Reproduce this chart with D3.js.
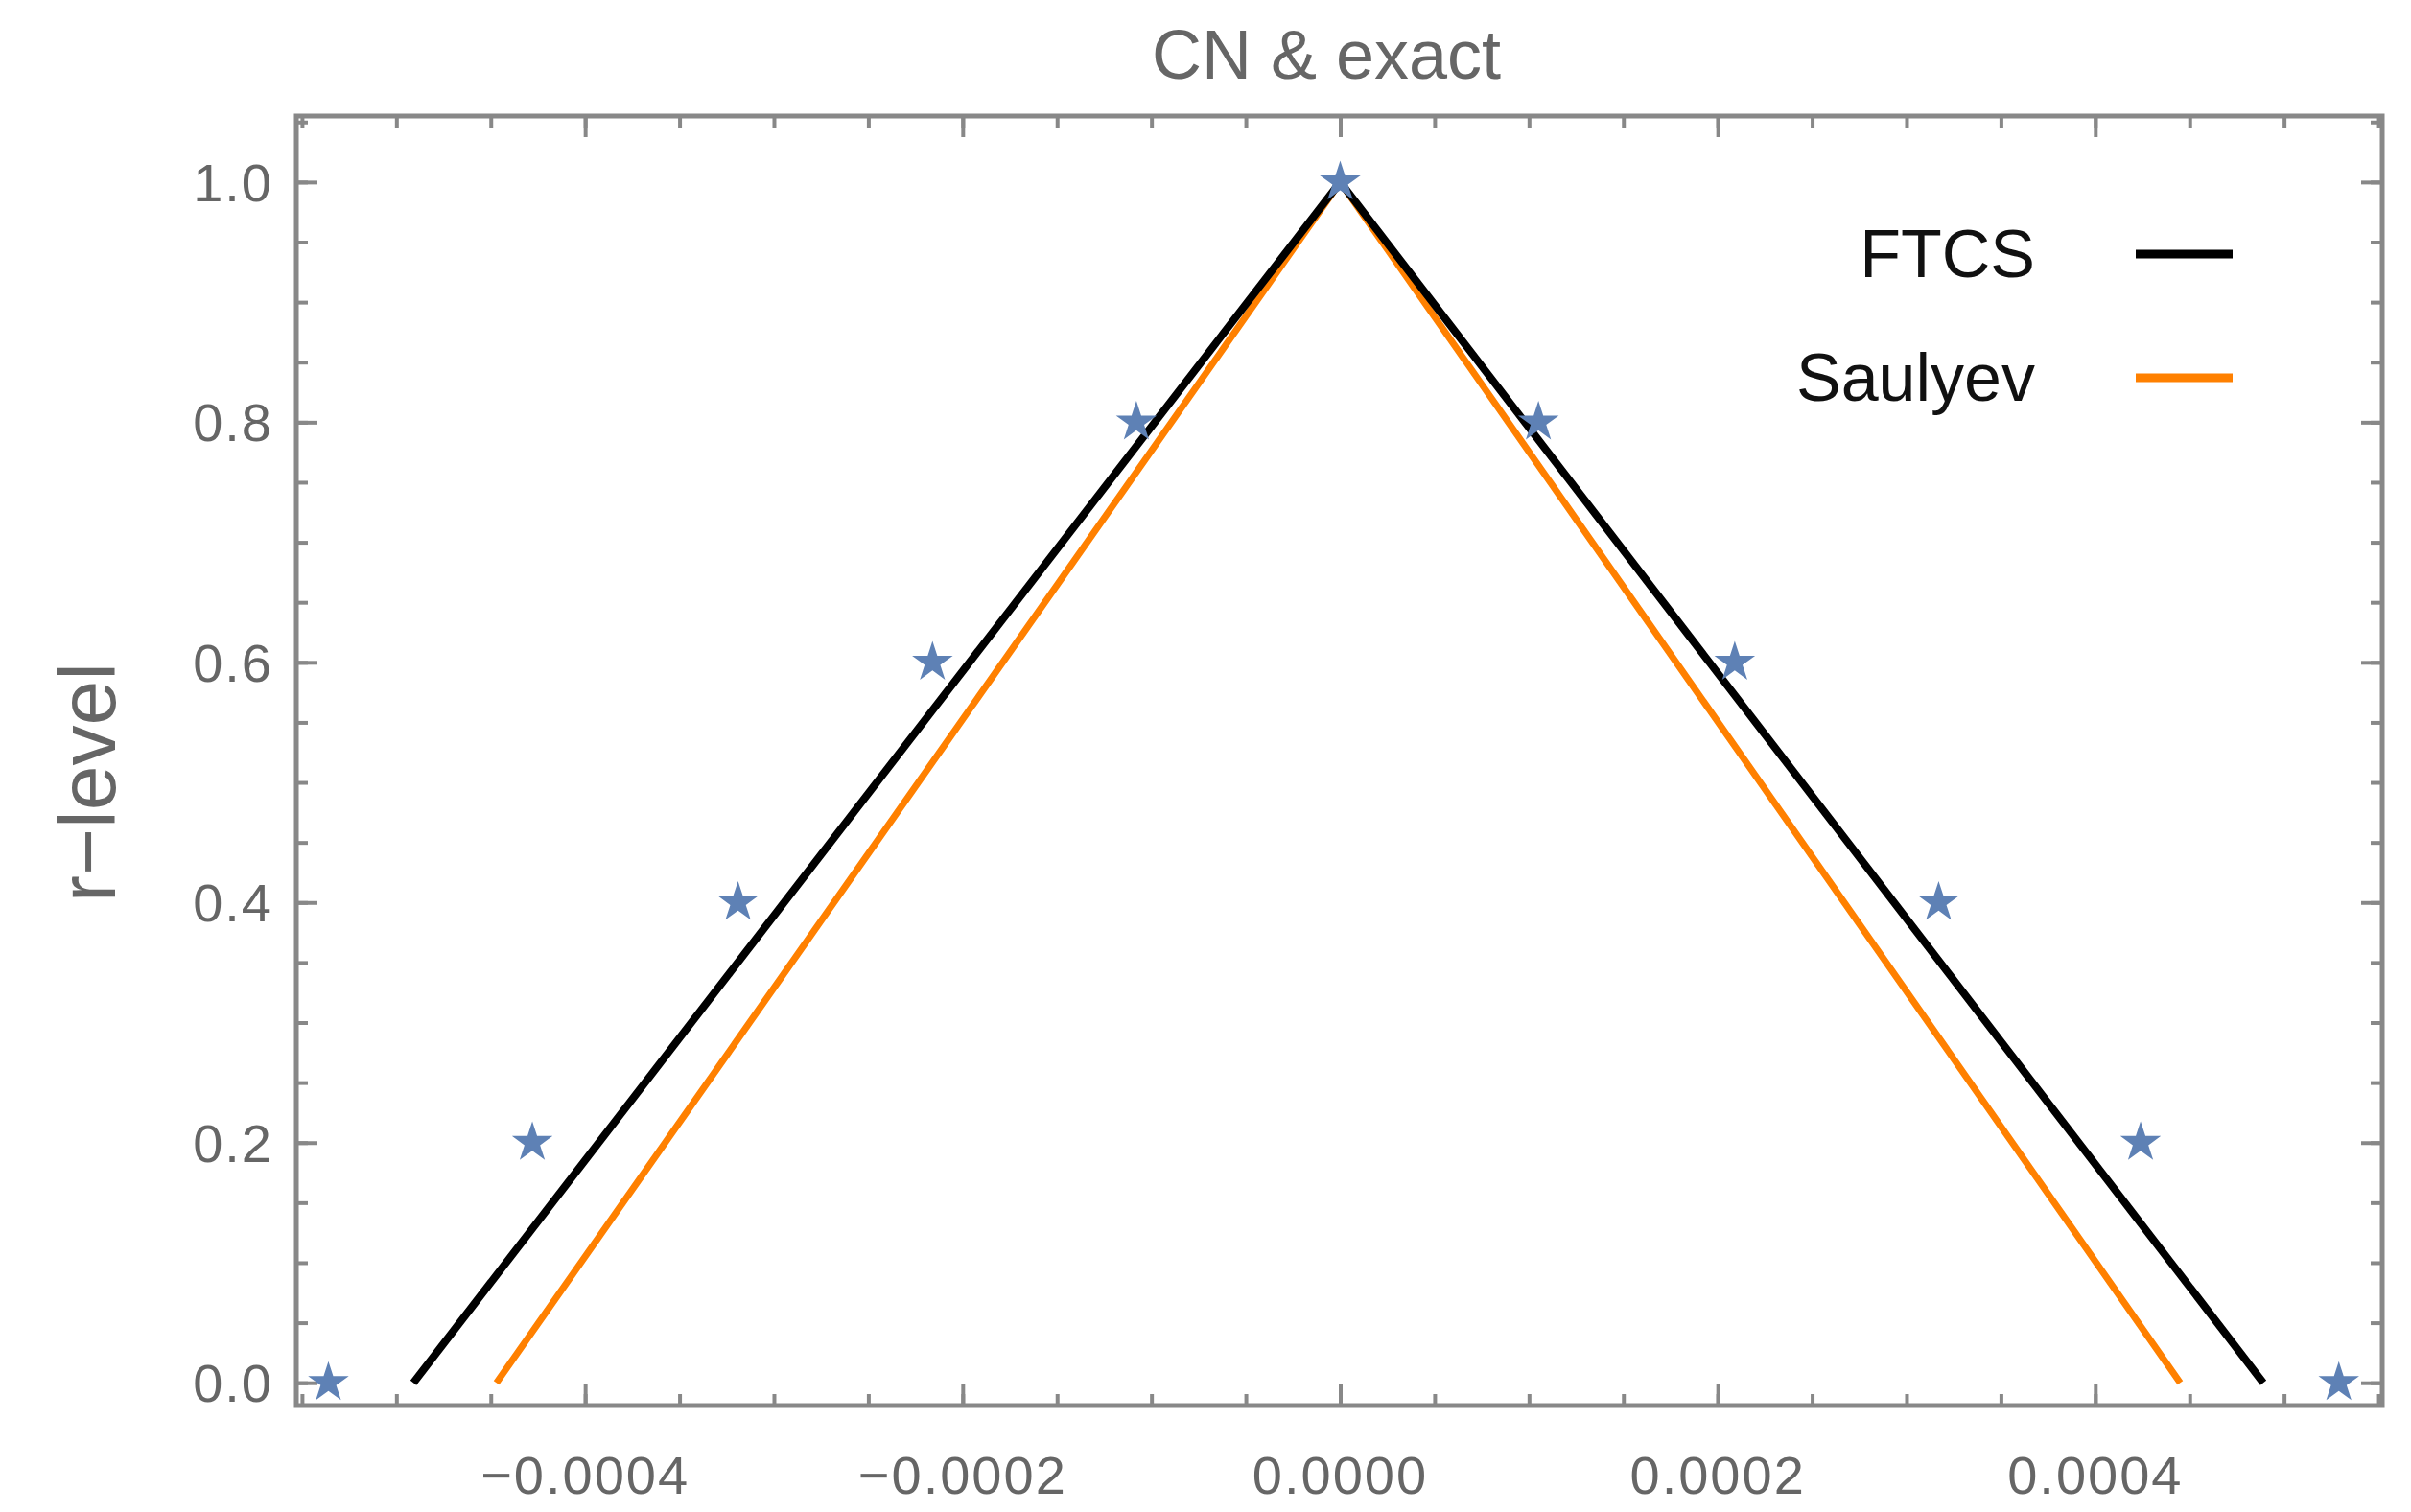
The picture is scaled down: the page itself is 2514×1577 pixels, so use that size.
<!DOCTYPE html>
<html>
<head>
<meta charset="utf-8">
<script src="https://cdn.jsdelivr.net/npm/d3@7"></script>
<style>
  body { margin: 0; background: #fff; }
  text { font-family: "Liberation Sans", Arial, sans-serif; }
</style>
</head>
<body>
<div id="chart"></div>
<script>
const levels = [0, 0.2, 0.4, 0.6, 0.8, 1.0, 0.8, 0.6, 0.4, 0.2, 0];
const cnX = [-0.000536, -0.000428, -0.000319, -0.000216, -0.000108, 0, 0.000105, 0.000209, 0.000317, 0.000424, 0.000529];
const ftcsX = [-0.000491, 0, 0.000489];
const ftcsY = [0, 1, 0];
const saulX = [-0.000447, 0, 0.000445];
const saulY = [0, 1, 0];
const xTicks = [-0.0004, -0.0002, 0, 0.0002, 0.0004];
const yTicks = [0, 0.2, 0.4, 0.6, 0.8, 1.0];
const legendNames = ['FTCS', 'Saulyev'];
const legendColors = ['#000000', '#ff8000'];

const width = 2514;
const height = 1577;
const margin = { left: 309, right: 30, top: 121, bottom: 111 };

const svg = d3.select('#chart').append('svg')
  .attr('width', width)
  .attr('height', height);

const x = d3.scaleLinear()
  .domain([-0.000553, 0.000552])
  .range([margin.left, width - margin.right]);
const y = d3.scaleLinear()
  .domain([-0.019, 1.055])
  .range([height - margin.bottom, margin.top]);

const frameColor = '#888';
const labelColor = '#666';

// inward ticks on all four sides
const xMinor = d3.range(-0.00055, 0.000551, 0.00005);
const yMinor = d3.range(0, 1.0501, 0.05);
function tickAxis(axis, ticks, size) {
  return axis.tickValues(ticks).tickSize(size).tickFormat('');
}
[[d3.axisBottom(x), y.range()[0]], [d3.axisTop(x), y.range()[1]]].forEach(([a, py]) => {
  svg.append('g').attr('transform', `translate(0,${py})`).call(tickAxis(a, xMinor, -12));
  svg.append('g').attr('transform', `translate(0,${py})`).call(tickAxis(a, xTicks, -22));
});
[[d3.axisLeft(y), x.range()[0]], [d3.axisRight(y), x.range()[1]]].forEach(([a, px]) => {
  svg.append('g').attr('transform', `translate(${px},0)`).call(tickAxis(a, yMinor, -12));
  svg.append('g').attr('transform', `translate(${px},0)`).call(tickAxis(a, yTicks, -22));
});
svg.selectAll('.domain').remove();
svg.selectAll('.tick line').attr('stroke', frameColor).attr('stroke-width', 4);

svg.append('rect')
  .attr('x', x.range()[0])
  .attr('y', y.range()[1])
  .attr('width', x.range()[1] - x.range()[0])
  .attr('height', y.range()[0] - y.range()[1])
  .attr('fill', 'none')
  .attr('stroke', frameColor)
  .attr('stroke-width', 5);

// tick labels
svg.selectAll('.xlab').data(xTicks).enter().append('text')
  .attr('x', (d) => x(d))
  .attr('y', y.range()[0] + 92)
  .attr('text-anchor', 'middle')
  .attr('font-size', 56)
  .attr('letter-spacing', 2)
  .attr('fill', labelColor)
  .text((d) => (d < 0 ? '\u2212' : '') + Math.abs(d).toFixed(4));
svg.selectAll('.ylab').data(yTicks).enter().append('text')
  .attr('x', x.range()[0] - 24)
  .attr('y', (d) => y(d) + 20)
  .attr('text-anchor', 'end')
  .attr('font-size', 56)
  .attr('letter-spacing', 2)
  .attr('fill', labelColor)
  .text((d) => d.toFixed(1));

svg.append('text')
  .attr('x', 1383)
  .attr('y', 82)
  .attr('text-anchor', 'middle')
  .attr('font-size', 72)
  .attr('fill', labelColor)
  .text('CN & exact');

svg.append('text')
  .attr('transform', `translate(120,${y(0.5)}) rotate(-90)`)
  .attr('text-anchor', 'middle')
  .attr('font-size', 84)
  .attr('fill', labelColor)
  .text('r\u2212level');

// lines
const line = d3.line().x((d) => x(d[0])).y((d) => y(d[1]));
svg.append('path')
  .datum(saulX.map((v, i) => [v, saulY[i]]))
  .attr('d', line)
  .attr('fill', 'none')
  .attr('stroke', legendColors[1])
  .attr('stroke-width', 7);
svg.append('path')
  .datum(ftcsX.map((v, i) => [v, ftcsY[i]]))
  .attr('d', line)
  .attr('fill', 'none')
  .attr('stroke', legendColors[0])
  .attr('stroke-width', 8);

// CN stars
const star = d3.symbol().type(d3.symbolStar).size(560);
svg.selectAll('.star').data(cnX).enter().append('path')
  .attr('d', star)
  .attr('transform', (d, i) => `translate(${x(d)},${y(levels[i])})`)
  .attr('fill', '#5e81b5');

// legend
legendNames.forEach((name, i) => {
  const ly = 265 + i * 129;
  svg.append('text')
    .attr('x', 2122)
    .attr('y', ly + 24)
    .attr('text-anchor', 'end')
    .attr('font-size', 70)
    .attr('fill', '#111')
    .text(name);
  svg.append('line')
    .attr('x1', 2227).attr('x2', 2328)
    .attr('y1', ly).attr('y2', ly)
    .attr('stroke', legendColors[i])
    .attr('stroke-width', 9);
});
</script>
</body>
</html>
